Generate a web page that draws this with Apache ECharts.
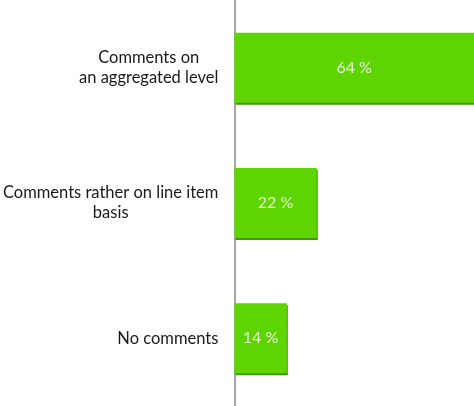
<!DOCTYPE html>
<html>
<head>
<meta charset="utf-8">
<script src="https://cdn.jsdelivr.net/npm/echarts@6/dist/echarts.min.js"></script>
<style>
  html, body { margin: 0; padding: 0; background: #fff; }
  #chart { width: 474px; height: 406px; }
</style>
</head>
<body>
<div id="chart"></div>
<script>
// categories, top to bottom
var categories = ['Comments on\nan aggregated level', 'Comments rather on line item\nbasis', 'No comments'];
// share of answers in percent
var shares = [64, 22, 14];

var chart = echarts.init(document.getElementById('chart'));

var option = {
    animation: false,
    grid: { left: 233, right: 0, top: 0, bottom: 0, containLabel: false },
    xAxis: {
        type: 'value',
        min: 0,
        max: 64,
        show: false
    },
    yAxis: {
        type: 'category',
        inverse: true,
        data: categories,
        axisLine: { show: true, lineStyle: { color: '#a3a7aa', width: 2 } },
        axisTick: { show: false },
        axisLabel: {
            margin: 16,
            // centre each line inside the label block
            formatter: function (value) {
                return value.split('\n').map(function (s) { return '{c|' + s + '}'; }).join('\n');
            },
            rich: {
                c: {
                    align: 'center',
                    fontFamily: 'Lato',
                    fontSize: 16.5,
                    lineHeight: 20,
                    color: '#1a1a1a'
                }
            }
        }
    },
    series: [
        {
            type: 'bar',
            data: shares,
            barWidth: 70,
            itemStyle: {
                color: '#5ed400',
                shadowColor: '#3f9a00',
                shadowOffsetX: 1,
                shadowOffsetY: 2,
                shadowBlur: 0
            },
            label: {
                show: true,
                position: 'inside',
                formatter: '{c} %',
                fontFamily: 'Lato',
                fontSize: 16,
                color: '#e9f8d8'
            }
        }
    ]
};

chart.setOption(option);
</script>
</body>
</html>
